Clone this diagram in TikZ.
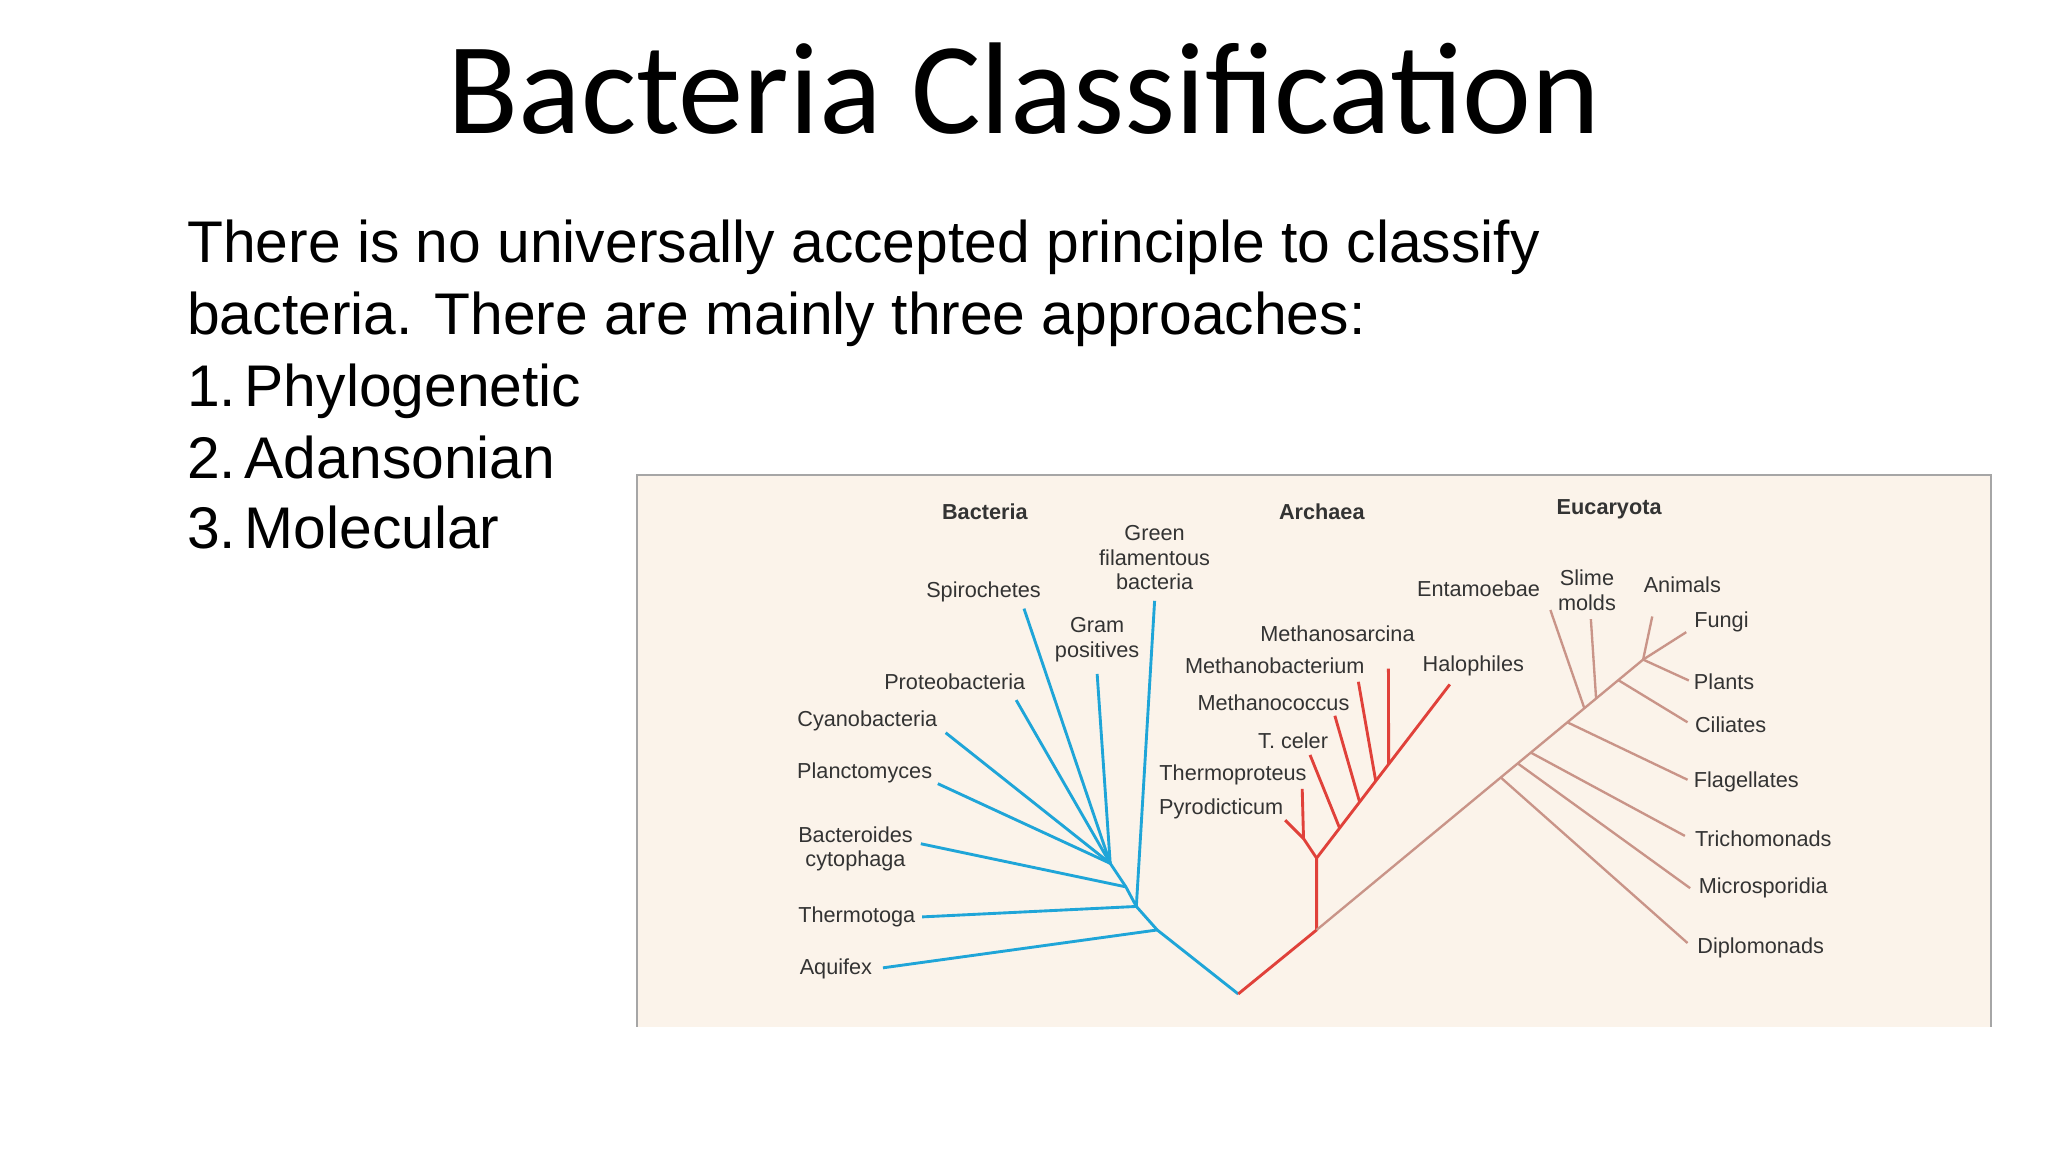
\documentclass[tikz,border=0pt]{standalone}
\usepackage{fontspec}
\usetikzlibrary{calc}
\setmainfont{Liberation Sans}
\newfontfamily\titlefont{Carlito}
\begin{document}
\begin{tikzpicture}[x=0.5pt,y=-0.5pt,
  lab/.style={font=\fontsize{8.3}{9.5}\selectfont, text=black!80, inner sep=0.5pt, align=center},
  grp/.style={font=\bfseries\fontsize{8.3}{9.5}\selectfont, text=black!80},
  bl/.style={draw=bactblue, line width=1.1pt},
  rd/.style={draw=archred, line width=1.1pt},
  br/.style={draw=eukbrown, line width=0.9pt},
  body/.style={font=\fontsize{22.5}{27.5}\selectfont, anchor=base west, inner sep=0pt}]
\definecolor{bactblue}{HTML}{1FA5D8}
\definecolor{archred}{HTML}{E0413A}
\definecolor{eukbrown}{HTML}{C99488}
\definecolor{boxbg}{HTML}{FBF3EA}
\useasboundingbox (0,0) rectangle (1568,882);
\fill[white] (0,0) rectangle (1568,882);
\node (title) at (784,68) {\titlefont\fontsize{50}{56}\selectfont Bacteria Classification};
\node[body] (l1) at (143,201) {There is no universally accepted principle to classify};
\node[body] (l2) at (143,256) {bacteria. There are mainly three approaches:};
\node[body] (n1) at (143,311) {1.}; \node[body] (t1) at (187,311) {Phylogenetic};
\node[body] (n2) at (143,366) {2.}; \node[body] (t2) at (187,366) {Adansonian};
\node[body] (n3) at (143,420) {3.}; \node[body] (t3) at (187,420) {Molecular};
% panel
\fill[boxbg] (488,364) rectangle (1524,786);
\draw[black!35, line width=0.8pt] (488,786) -- (488,364) -- (1524,364) -- (1524,786);
% group titles
\node[grp] (gb) at (754,392) {Bacteria};
\node[grp] (ga) at (1012,392) {Archaea};
\node[grp] (ge) at (1232,390) {Eucaryota};
% tree coordinates
\coordinate (root) at (948,761);
\coordinate (bq) at (886,712);
\coordinate (bt) at (870,694);
\coordinate (bf) at (850,661);
\coordinate (bb) at (862,679);
\coordinate (ar) at (1008,712);
\coordinate (an) at (1008,657);
\coordinate (ap) at (998,642);
\coordinate (ah) at (1110,524);
\coordinate (et) at (1258,505);
% bacteria
\coordinate (eAq) at (676,741); \coordinate (eTh) at (706,702);
\coordinate (eGr) at (884,460); \coordinate (eBa) at (705,646);
\coordinate (ePl) at (718,600); \coordinate (eCy) at (724,561);
\coordinate (ePr) at (778,536); \coordinate (eGp) at (840,516);
\coordinate (eSp) at (784,466);
\draw[bl] (root) -- (bq) -- (bt) -- (bb) -- (bf);
\draw[bl] (eAq) -- (bq); \draw[bl] (eTh) -- (bt); \draw[bl] (eGr) -- (bt);
\draw[bl] (eBa) -- (bb); \draw[bl] (ePl) -- (bf); \draw[bl] (eCy) -- (bf);
\draw[bl] (ePr) -- (bf); \draw[bl] (eGp) -- (bf); \draw[bl] (eSp) -- (bf);
\node[lab] (Aq) at (640,742) {Aquifex};
\node[lab] (Th) at (656,702) {Thermotoga};
\node[lab] (Ba) at (655,650) {Bacteroides\\cytophaga};
\node[lab] (Pl) at (662,592) {Planctomyces};
\node[lab] (Cy) at (664,552) {Cyanobacteria};
\node[lab] (Pr) at (731,522) {Proteobacteria};
\node[lab] (Gp) at (840,490) {Gram\\positives};
\node[lab] (Sp) at (753,453) {Spirochetes};
\node[lab] (Gr) at (884,427) {Green\\filamentous\\bacteria};
% archaea
\draw[rd] (root) -- (ar) -- (an) -- (ah);
\draw[rd] (an) -- (ap);
\coordinate (ePy) at (984,628); \coordinate (eTp) at (997,604);
\draw[rd] (ePy) -- (ap); \draw[rd] (eTp) -- (ap);
\coordinate (jTc) at ($(an)!0.173!(ah)$);
\coordinate (jMc) at ($(an)!0.323!(ah)$);
\coordinate (jMb) at ($(an)!0.444!(ah)$);
\coordinate (jMs) at ($(an)!0.541!(ah)$);
\coordinate (eTc) at (1003,578); \coordinate (eMc) at (1022,548);
\coordinate (eMb) at (1040,522); \coordinate (eMs) at (1063,512);
\draw[rd] (eTc) -- (jTc); \draw[rd] (eMc) -- (jMc);
\draw[rd] (eMb) -- (jMb); \draw[rd] (eMs) -- (jMs);
\node[lab] (Py) at (935,619) {Pyrodicticum};
\node[lab] (Tp) at (944,593) {Thermoproteus};
\node[lab] (Tc) at (990,567) {T. celer};
\node[lab] (Mc) at (975,538) {Methanococcus};
\node[lab] (Mb) at (976,510) {Methanobacterium};
\node[lab] (Ms) at (1024,485) {Methanosarcina};
\node[lab] (Ha) at (1128,510) {Halophiles};
% eukaryota
\draw[br] (ar) -- (et);
\coordinate (eFu) at (1291,484); \coordinate (eAn) at (1265,472);
\coordinate (ePla) at (1293,521);
\draw[br] (et) -- (eFu); \draw[br] (et) -- (eAn); \draw[br] (et) -- (ePla);
\coordinate (jDi) at ($(ar)!0.564!(et)$); \coordinate (eDi) at (1292,722);
\coordinate (jMi) at ($(ar)!0.616!(et)$); \coordinate (eMi) at (1294,680);
\coordinate (jTr) at ($(ar)!0.656!(et)$); \coordinate (eTr) at (1290,640);
\coordinate (jFl) at ($(ar)!0.768!(et)$); \coordinate (eFl) at (1292,597);
\coordinate (jEn) at ($(ar)!0.82!(et)$);  \coordinate (eEn) at (1187,467);
\coordinate (jSl) at ($(ar)!0.856!(et)$); \coordinate (eSl) at (1218,474);
\coordinate (jCi) at ($(ar)!0.924!(et)$); \coordinate (eCi) at (1292,553);
\draw[br] (jDi) -- (eDi); \draw[br] (jMi) -- (eMi); \draw[br] (jTr) -- (eTr);
\draw[br] (jFl) -- (eFl); \draw[br] (jEn) -- (eEn); \draw[br] (jSl) -- (eSl);
\draw[br] (jCi) -- (eCi);
\node[lab] (En) at (1132,451) {Entamoebae};
\node[lab] (Sl) at (1215,452) {Slime\\molds};
\node[lab] (An) at (1288,448) {Animals};
\node[lab] (Fu) at (1318,476) {Fungi};
\node[lab] (Pla) at (1320,522) {Plants};
\node[lab] (Ci) at (1325,555) {Ciliates};
\node[lab] (Fl) at (1337,599) {Flagellates};
\node[lab] (Tr) at (1350,642) {Trichomonads};
\node[lab] (Mi) at (1350,680) {Microsporidia};
\node[lab] (Di) at (1348,726) {Diplomonads};
\end{tikzpicture}
\end{document}
